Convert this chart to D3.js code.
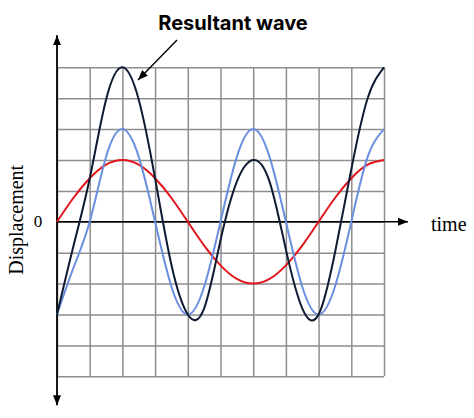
<!DOCTYPE html>
<meta charset="utf-8">
<style>
	body { margin: 0; background: #fff; }
	svg { display: block; }
</style>
<svg width="474" height="418"></svg>
<script src="https://d3js.org/d3.v7.min.js"></script>
<script>
	// time samples (grid columns, half steps)
	var times = [0, 0.5, 1, 1.5, 2, 2.5, 3, 3.5, 4, 4.5, 5, 5.5, 6, 6.5, 7, 7.5, 8, 8.5, 9, 9.5, 10]
	// red wave
	var redWave = [0, 0.77, 1.41, 1.85, 2, 1.85, 1.41, 0.77, 0, -0.77, -1.41, -1.85, -2, -1.85, -1.41, -0.77, 0, 0.77, 1.41, 1.85, 2]
	// light blue wave
	var blueWave = [-3, -1.5, 0, 2.1, 3, 2.1, 0, -2.1, -3, -2.1, 0, 2.1, 3, 2.1, 0, -2.1, -3, -2.1, 0, 2.1, 3]
	// resultant wave (dark)
	var resultWave = [-3, -0.8, 1.4, 3.95, 5, 3.95, 1.4, -1.4, -3.0, -2.8, -0.6, 1.3, 2, 1.3, -0.9, -2.8, -3.0, -1.0, 1.7, 4.0, 5]

	var xTicks = d3.range(0, 11)
	var yTicks = d3.range(-5, 6)

	var svg = d3.select('svg')

	var x = d3.scaleLinear().domain([0, 10]).range([57, 384]),
		y = d3.scaleLinear().domain([-5, 5]).range([376.3, 67.3])

	// 网格
	var grid = svg.append('g')
	grid.append('g')
		.attr('transform', 'translate(0,' + y(-5) + ')')
		.call(d3.axisBottom(x).tickValues(xTicks).tickSize(-(y(-5) - y(5))).tickFormat(''))
	grid.append('g')
		.attr('transform', 'translate(' + x(0) + ',0)')
		.call(d3.axisLeft(y).tickValues(yTicks).tickSize(-(x(10) - x(0))).tickFormat(''))
	grid.selectAll('.domain').remove()
	grid.selectAll('.tick line')
		.attr('stroke', '#8e8e8e')
		.attr('stroke-width', 1.5)

	// arrow heads
	var defs = svg.append('defs')
	defs.append('marker')
		.attr('id', 'head')
		.attr('viewBox', '0 0 10 8')
		.attr('refX', 10)
		.attr('refY', 4)
		.attr('markerWidth', 10)
		.attr('markerHeight', 8)
		.attr('markerUnits', 'userSpaceOnUse')
		.attr('orient', 'auto-start-reverse')
		.append('path')
		.attr('d', 'M0,0L10,4L0,8Z')
		.attr('fill', '#000')

	// x 轴
	svg.append('line')
		.attr('x1', x(0)).attr('x2', x(10) + 24)
		.attr('y1', y(0)).attr('y2', y(0))
		.attr('stroke', '#000').attr('stroke-width', 1.6)
		.attr('marker-end', 'url(#head)')
	// y 轴
	svg.append('line')
		.attr('x1', x(0)).attr('x2', x(0))
		.attr('y1', y(5) - 32).attr('y2', y(-5) + 29)
		.attr('stroke', '#000').attr('stroke-width', 1.8)
		.attr('marker-start', 'url(#head)')
		.attr('marker-end', 'url(#head)')

	var line = d3.line()
		.x(function (d) { return x(d.t) })
		.y(function (d) { return y(d.v) })
		.curve(d3.curveNatural)

	function series(vals) {
		return times.map(function (t, i) { return { t: t, v: vals[i] } })
	}

	svg.append('path')
		.attr('d', line(series(redWave)))
		.attr('fill', 'none').attr('stroke', '#e3141b').attr('stroke-width', 2)
	svg.append('path')
		.attr('d', line(series(blueWave)))
		.attr('fill', 'none').attr('stroke', '#6b8fe0').attr('stroke-width', 2)
	svg.append('path')
		.attr('d', line(series(resultWave)))
		.attr('fill', 'none').attr('stroke', '#0f1a33').attr('stroke-width', 2)

	// labels
	svg.append('text')
		.attr('x', 38).attr('y', y(0) + 5)
		.attr('text-anchor', 'middle')
		.style('font', '17px "Liberation Serif", serif')
		.text('0')
	svg.append('text')
		.attr('x', 431).attr('y', y(0) + 9)
		.style('font', '20px "Liberation Serif", serif')
		.text('time')
	svg.append('text')
		.attr('transform', 'translate(23,' + (y(0) - 2) + ') rotate(-90)')
		.attr('text-anchor', 'middle')
		.style('font', '20px "Liberation Serif", serif')
		.text('Displacement')

	svg.append('text')
		.attr('x', 233).attr('y', 30)
		.attr('text-anchor', 'middle')
		.style('font', '700 20px Inter, sans-serif')
		.text('Resultant wave')

	// pointer to resultant wave
	svg.append('line')
		.attr('x1', 177).attr('y1', 40)
		.attr('x2', 138).attr('y2', 80)
		.attr('stroke', '#000').attr('stroke-width', 1.4)
		.attr('marker-end', 'url(#head)')
</script>
